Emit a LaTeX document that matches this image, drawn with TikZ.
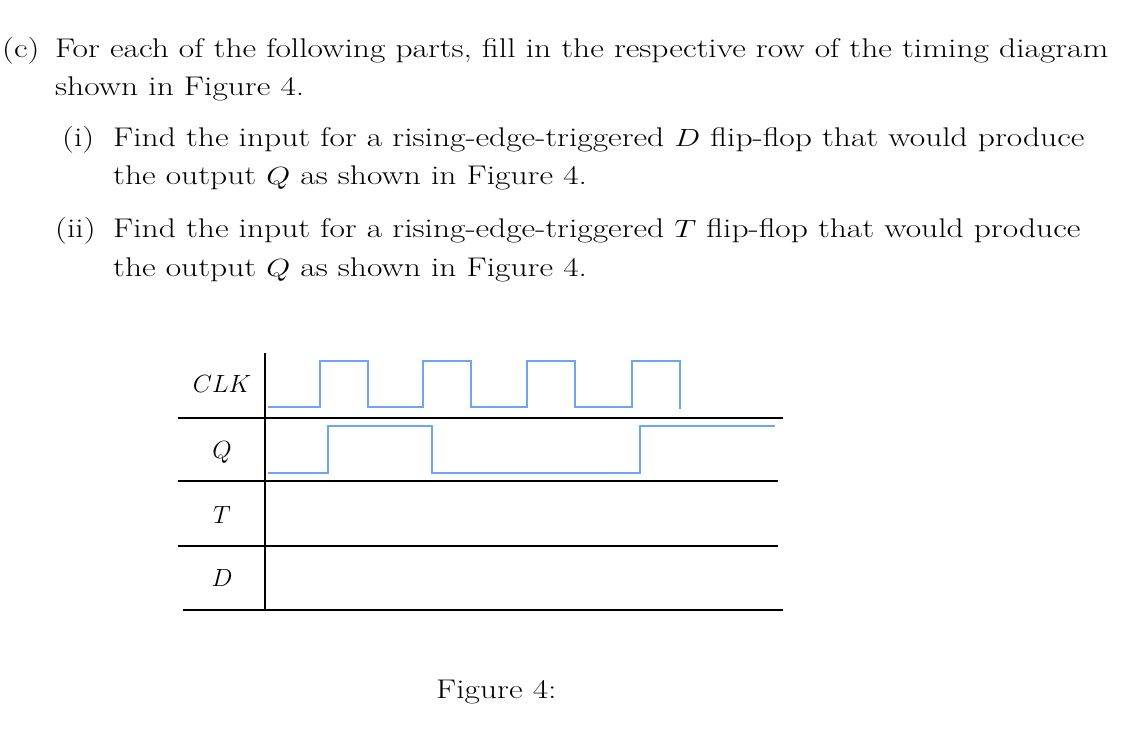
\documentclass[tikz,border=0pt]{standalone}
\usepackage{fontspec}
\usepackage{graphicx}
\definecolor{sig}{RGB}{110,165,240}
\newcommand{\wtxt}[1]{\scalebox{1.24}[1]{#1}}
\begin{document}
\begin{tikzpicture}[x=1pt,y=-1pt,
  txt/.style={anchor=base west,inner sep=0pt,font=\fontsize{27}{30}\selectfont},
  lbl/.style={inner sep=0pt,font=\fontsize{26}{28}\selectfont},
  grid/.style={line width=1.4pt,black},
  wave/.style={line width=1.4pt,sig}]
\useasboundingbox (0,0) rectangle (1126,728);
\node[txt] (c) at (2,57) {\wtxt{(c)}};
\node[txt] (c1) at (55,57) {\wtxt{For each of the following parts, fill in the respective row of the timing diagram}};
\node[txt] (c2) at (55,95) {\wtxt{shown in Figure 4.}};
\node[txt] (i) at (62,146) {\wtxt{(i)}};
\node[txt] (i1) at (113,146) {\wtxt{Find the input for a rising-edge-triggered $D$ flip-flop that would produce}};
\node[txt] (i2) at (113,184) {\wtxt{the output $Q$ as shown in Figure 4.}};
\node[txt] (ii) at (55,237) {\wtxt{(ii)}};
\node[txt] (ii1) at (113,237) {\wtxt{Find the input for a rising-edge-triggered $T$ flip-flop that would produce}};
\node[txt] (ii2) at (113,276) {\wtxt{the output $Q$ as shown in Figure 4.}};
% grid
\draw[grid] (265,353) -- (265,610);
\draw[grid] (178,418) -- (783,418);
\draw[grid] (178,481) -- (778,481);
\draw[grid] (178,546) -- (778,546);
\draw[grid] (183,610) -- (783,610);
\node[lbl] (lclk) at (222,384) {$CLK$};
\node[lbl] (lq) at (222,452) {$Q$};
\node[lbl] (lt) at (222,515) {$T$};
\node[lbl] (ld) at (222,578) {$D$};
% waves
\draw[wave] (268,407) -- (320,407) -- (320,361) -- (368,361) -- (368,407) -- (423,407) -- (423,361) -- (471,361) -- (471,407) -- (527,407) -- (527,361) -- (575,361) -- (575,407) -- (632,407) -- (632,361) -- (680,361) -- (680,409);
\draw[wave] (268,473) -- (328,473) -- (328,426) -- (432,426) -- (432,473) -- (640,473) -- (640,426) -- (775,426);
\node[txt] (fig) at (436,698) {\wtxt{Figure 4:}};
\end{tikzpicture}
\end{document}
